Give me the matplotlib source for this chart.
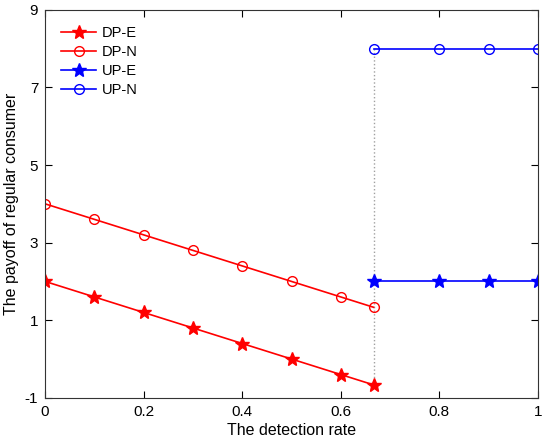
import matplotlib.pyplot as plt

x_dp = [0, 0.1, 0.2, 0.3, 0.4, 0.5, 0.6, 2 / 3]
dp_e = [2, 1.6, 1.2, 0.8, 0.4, 0.0, -0.4, -2 / 3]
dp_n = [4, 3.6, 3.2, 2.8, 2.4, 2.0, 1.6, 4 / 3]

x_up = [2 / 3, 0.8, 0.9, 1.0]
up_e = [2, 2, 2, 2]
up_n = [8, 8, 8, 8]

xticks = [0, 0.2, 0.4, 0.6, 0.8, 1]
yticks = [-1, 1, 3, 5, 7, 9]

plt.rcParams['font.family'] = ['Liberation Sans', 'DejaVu Sans']
plt.rcParams['axes.unicode_minus'] = False

fig = plt.figure(figsize=(5.5, 4.48), dpi=100)
ax = fig.add_axes([0.082, 0.112, 0.896, 0.866])

ax.plot([x_dp[-1], x_dp[-1]], [dp_e[-1], up_n[0]], ':', color='#a0a0a0', lw=1)
ax.plot(x_dp, dp_e, '-*', color='red', lw=1.2, ms=10, label='DP-E')
ax.plot(x_dp, dp_n, '-o', color='red', lw=1.2, ms=7, mfc='none', label='DP-N')
ax.plot(x_up, up_e, '-*', color='blue', lw=1.2, ms=10, label='UP-E')
ax.plot(x_up, up_n, '-o', color='blue', lw=1.2, ms=7, mfc='none', label='UP-N')

ax.set_xlim(0, 1)
ax.set_ylim(-1, 9)
ax.set_xticks(xticks)
ax.set_xticklabels(['0', '0.2', '0.4', '0.6', '0.8', '1'])
ax.set_yticks(yticks)
ax.tick_params(direction='in', top=True, right=True, labelsize=11, length=5, pad=5)
for s in ax.spines.values():
    s.set_color('#333333')
    s.set_linewidth(0.8)
ax.set_xlabel('The detection rate', fontsize=11.5, labelpad=3)
ax.set_ylabel('The payoff of regular consumer', fontsize=11.5, labelpad=4)

ax.legend(loc='upper left', frameon=False, fontsize=10.5, handlelength=2.4,
          borderaxespad=0.7, labelspacing=0.35, handletextpad=0.4)

fig.savefig('out.png', dpi=100)
